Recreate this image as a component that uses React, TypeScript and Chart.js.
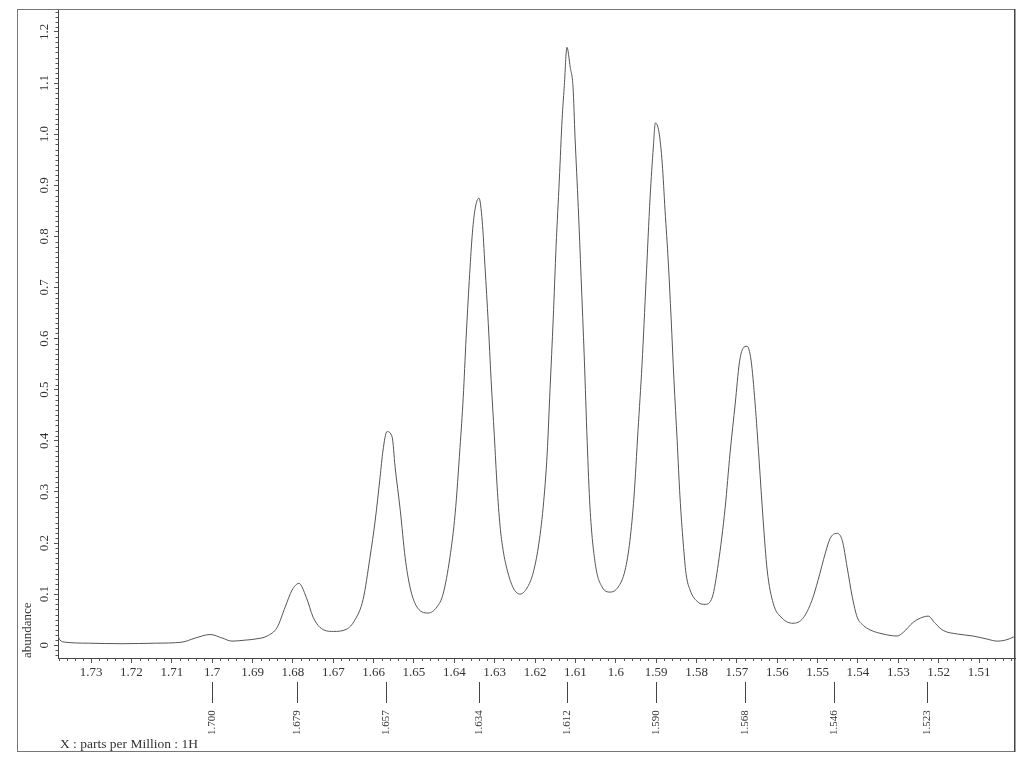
import React, { useEffect, useRef } from 'react';
import { Chart, registerables } from 'chart.js';

Chart.register(...registerables);

// chemical shift (ppm) of each sampled point
const ppm = [
  1.7382, 1.7377, 1.7364, 1.7307, 1.7223, 1.7141, 1.7075, 1.7042, 1.7005, 1.6975,
  1.6951, 1.6918, 1.6894, 1.6864, 1.6839, 1.6819, 1.6802, 1.6785, 1.6767, 1.675,
  1.6733, 1.67, 1.6668, 1.6646, 1.6626, 1.6609, 1.6596, 1.6584, 1.6577, 1.6567,
  1.6554, 1.6547, 1.6534, 1.6522, 1.651, 1.6495, 1.6465, 1.6443, 1.6428, 1.6411,
  1.6398, 1.6386, 1.6378, 1.6371, 1.6363, 1.6356, 1.6349, 1.6339, 1.6331, 1.6324,
  1.6316, 1.6309, 1.6301, 1.6294, 1.6287, 1.6279, 1.6269, 1.6254, 1.6237, 1.622,
  1.6205, 1.6192, 1.618, 1.617, 1.6163, 1.6155, 1.6148, 1.614, 1.6133, 1.6128,
  1.6121, 1.6113, 1.6106, 1.6101, 1.6093, 1.6086, 1.6078, 1.6071, 1.6064, 1.6051,
  1.6034, 1.6014, 1.5994, 1.5977, 1.5965, 1.5955, 1.5945, 1.5935, 1.5925, 1.5915,
  1.5907, 1.5902, 1.5893, 1.5885, 1.5878, 1.587, 1.5863, 1.5856, 1.5848, 1.5841,
  1.5833, 1.5826, 1.5816, 1.5796, 1.5779, 1.5761, 1.5746, 1.5729, 1.5717, 1.5704,
  1.5694, 1.5685, 1.5675, 1.5665, 1.5655, 1.5645, 1.5635, 1.5625, 1.561, 1.5588,
  1.5561, 1.5536, 1.5514, 1.5499, 1.5481, 1.5469, 1.5452, 1.5439, 1.5427, 1.5414,
  1.5402, 1.5387, 1.537, 1.5338, 1.5303, 1.5288, 1.5263, 1.5239, 1.5226, 1.5209,
  1.5189, 1.5154, 1.5115, 1.508, 1.5055, 1.5035, 1.5015, 1.5011,
];

// abundance at each sampled point
const abundance = [
  0.018, 0.01, 0.006, 0.004, 0.003, 0.004, 0.006, 0.014, 0.021, 0.014,
  0.008, 0.01, 0.012, 0.018, 0.035, 0.075, 0.108, 0.121, 0.094, 0.055,
  0.035, 0.027, 0.031, 0.05, 0.09, 0.172, 0.245, 0.329, 0.38, 0.418,
  0.407, 0.35, 0.264, 0.172, 0.114, 0.078, 0.063, 0.075, 0.1, 0.172,
  0.258, 0.387, 0.485, 0.6, 0.714, 0.8, 0.852, 0.875, 0.83, 0.74,
  0.63, 0.52, 0.41, 0.31, 0.235, 0.185, 0.147, 0.112, 0.1, 0.112,
  0.141, 0.192, 0.27, 0.376, 0.5, 0.64, 0.78, 0.91, 1.03, 1.09,
  1.17, 1.131, 1.092, 0.994, 0.857, 0.72, 0.56, 0.4, 0.27, 0.16,
  0.114, 0.104, 0.114, 0.147, 0.205, 0.29, 0.42, 0.55, 0.714, 0.877,
  0.975, 1.022, 1.004, 0.943, 0.851, 0.75, 0.64, 0.52, 0.4, 0.29,
  0.2, 0.14, 0.108, 0.084, 0.08, 0.094, 0.16, 0.27, 0.376, 0.474,
  0.552, 0.581, 0.585, 0.558, 0.474, 0.362, 0.245, 0.147, 0.082, 0.053,
  0.043, 0.053, 0.088, 0.127, 0.18, 0.209, 0.219, 0.205, 0.153, 0.094,
  0.055, 0.039, 0.03, 0.022, 0.018, 0.025, 0.045, 0.055, 0.057, 0.043,
  0.029, 0.022, 0.018, 0.012, 0.008, 0.01, 0.016, 0.018,
];

// picked peak positions (ppm)
const peakLabels = [1.7, 1.679, 1.657, 1.634, 1.612, 1.59, 1.568, 1.546, 1.523];

const xMin = 1.5011;
const xMax = 1.7382;
const xStep = 0.01;
const xMinorStep = 0.002;
const yMin = -0.025;
const yMax = 1.243;
const yStep = 0.1;
const yMinorStep = 0.01;
const xTitle = 'X : parts per Million : 1H';
const yTitle = 'abundance';

const FONT = '"Liberation Serif", "Times New Roman", serif';
const INK = '#333';

const decorPlugin = {
  id: 'decor',
  afterDraw(chart: any) {
    const { ctx, chartArea, scales } = chart;
    const xs = scales.x;
    const ys = scales.y;
    ctx.save();
    // minor ticks x
    ctx.strokeStyle = '#555';
    ctx.lineWidth = 1;
    ctx.beginPath();
    const i0 = Math.ceil(xMin / xMinorStep);
    const i1 = Math.floor(xMax / xMinorStep);
    for (let i = i0; i <= i1; i++) {
      if (i % 5 === 0) continue;
      const px = Math.round(xs.getPixelForValue(i * xMinorStep)) + 0.5;
      ctx.moveTo(px, chartArea.bottom);
      ctx.lineTo(px, chartArea.bottom + 3);
    }
    // minor ticks y
    const j0 = Math.ceil(yMin / yMinorStep);
    const j1 = Math.floor(yMax / yMinorStep);
    for (let j = j0; j <= j1; j++) {
      if (j % 10 === 0) continue;
      const py = Math.round(ys.getPixelForValue(j * yMinorStep)) + 0.5;
      ctx.moveTo(chartArea.left, py);
      ctx.lineTo(chartArea.left - 2.5, py);
    }
    ctx.stroke();

    // peak labels
    ctx.strokeStyle = '#444';
    ctx.fillStyle = INK;
    ctx.font = '11px ' + FONT;
    for (const p of peakLabels) {
      const px = Math.round(xs.getPixelForValue(p)) + 0.5;
      ctx.beginPath();
      ctx.moveTo(px, chartArea.bottom + 24);
      ctx.lineTo(px, chartArea.bottom + 45);
      ctx.stroke();
      ctx.save();
      ctx.translate(px, chartArea.bottom + 77);
      ctx.rotate(-Math.PI / 2);
      ctx.textAlign = 'left';
      ctx.textBaseline = 'middle';
      ctx.fillText(p.toFixed(3), 0, 0);
      ctx.restore();
    }

    // x title
    ctx.font = '13.5px ' + FONT;
    ctx.textAlign = 'left';
    ctx.textBaseline = 'middle';
    ctx.fillText(xTitle, 60, 744);

    // outer frame
    ctx.strokeStyle = '#777';
    ctx.lineWidth = 1;
    ctx.strokeRect(17.5, 9.5, 997, 742);
    ctx.strokeStyle = '#444';
    ctx.lineWidth = 1.5;
    ctx.beginPath();
    ctx.moveTo(1014.75, 9);
    ctx.lineTo(1014.75, 752);
    ctx.stroke();
    ctx.restore();
  },
};

export default function App() {
  const ref = useRef<HTMLCanvasElement>(null);
  useEffect(() => {
    if (!ref.current) return;
    const chart = new Chart(ref.current, {
      type: 'line',
      data: {
        datasets: [
          {
            data: ppm.map((x, i) => ({ x, y: abundance[i] })),
            borderColor: '#555',
            borderWidth: 1,
            pointRadius: 0,
            fill: false,
            cubicInterpolationMode: 'monotone',
          },
        ],
      },
      options: {
        responsive: false,
        animation: false,
        devicePixelRatio: 1,
        layout: { padding: { top: 10, right: 9, left: 0, bottom: 0 } },
        plugins: { legend: { display: false }, tooltip: { enabled: false } },
        scales: {
          x: {
            type: 'linear',
            reverse: true,
            min: xMin,
            max: xMax,
            afterFit: (s: any) => {
              s.height = 124;
            },
            border: { color: '#444', width: 1 },
            grid: { drawOnChartArea: false, tickLength: 5, color: '#555' },
            ticks: {
              stepSize: xStep,
              includeBounds: false,
              autoSkip: false,
              maxRotation: 0,
              padding: 2,
              color: INK,
              font: { family: FONT, size: 13 },
              callback: (v: any) => String(parseFloat(Number(v).toFixed(2))),
            },
          },
          y: {
            type: 'linear',
            min: yMin,
            max: yMax,
            afterFit: (s: any) => {
              s.width = 58;
            },
            border: { color: '#444', width: 1 },
            grid: { drawOnChartArea: false, tickLength: 4, color: '#555' },
            title: {
              display: true,
              text: yTitle,
              align: 'start',
              color: INK,
              font: { family: FONT, size: 13 },
              padding: { top: 20, bottom: 0 },
            },
            ticks: {
              stepSize: yStep,
              includeBounds: false,
              minRotation: 90,
              maxRotation: 90,
              crossAlign: 'center',
              padding: 1,
              color: INK,
              font: { family: FONT, size: 13 },
              callback: (v: any) => {
                const n = Math.round(Number(v) * 10) / 10;
                return n === 0 ? '0' : n.toFixed(1);
              },
            },
          },
        },
      },
      plugins: [decorPlugin],
    } as any);
    return () => chart.destroy();
  }, []);
  return (
    <div style={{ position: 'absolute', left: 0, top: 0, width: 1024, height: 782, background: '#fff' }}>
      <canvas ref={ref} width={1024} height={782} style={{ display: 'block' }} />
    </div>
  );
}
